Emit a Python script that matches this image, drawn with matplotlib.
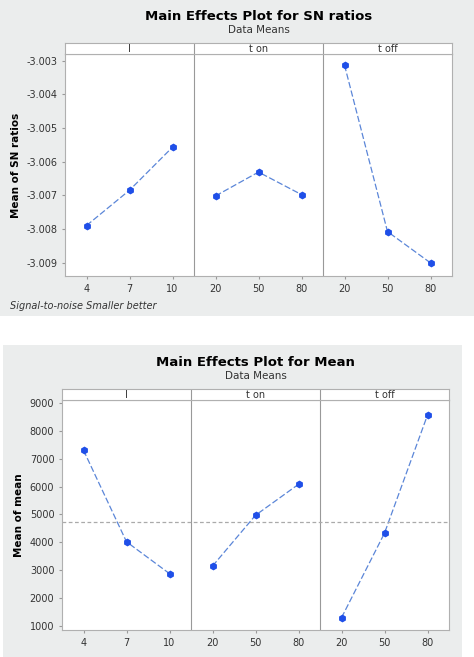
import matplotlib.pyplot as plt
from matplotlib.patches import Rectangle

factors = ["I", "t on", "t off"]
levels = [["4", "7", "10"], ["20", "50", "80"], ["20", "50", "80"]]
sn_values = [[-3.0079, -3.00685, -3.00557],
             [-3.00702, -3.00631, -3.00698],
             [-3.00313, -3.00808, -3.00901]]
mean_values = [[7300, 4020, 2880],
               [3150, 4970, 6080],
               [1300, 4330, 8560]]
mean_ref = 4730
sn_ticks = [-3.003, -3.004, -3.005, -3.006, -3.007, -3.008, -3.009]
mean_ticks = [1000, 2000, 3000, 4000, 5000, 6000, 7000, 8000, 9000]

W, H = 474, 657
fig = plt.figure(figsize=(W / 100, H / 100), dpi=100)
fig.patch.set_facecolor("white")


def px(x0, y0, x1, y1):
    return [x0 / W, 1 - y1 / H, (x1 - x0) / W, (y1 - y0) / H]


def panel(box, plot, strip_h, values, ticks, ylim, title, ylabel, ref=None, fmt="{:.3f}"):
    fig.patches.append(Rectangle((box[0] / W, 1 - box[3] / H), (box[2] - box[0]) / W,
                                 (box[3] - box[1]) / H, transform=fig.transFigure,
                                 facecolor="#ebeded", edgecolor="none", zorder=-5))
    x0, y0, x1, y1 = plot
    ax = fig.add_axes(px(x0, y0 + strip_h, x1, y1))
    st = fig.add_axes(px(x0, y0, x1, y0 + strip_h))
    for a in (ax, st):
        a.set_facecolor("white")
        for s in a.spines.values():
            s.set_color("#b0b0b0")
            s.set_linewidth(0.8)
    st.set_xlim(0, 9)
    st.set_xticks([]); st.set_yticks([])
    for i, f in enumerate(factors):
        st.text(3 * i + 1.5, 0.45, f, ha="center", va="center", fontsize=7, color="#333333")
        if i:
            st.axvline(3 * i, color="#999999", lw=0.8)
    xt, xl = [], []
    for i, vals in enumerate(values):
        xs = [3 * i + 0.5, 3 * i + 1.5, 3 * i + 2.5]
        ax.plot(xs, vals, ls=(0, (5, 2)), color="#5b86d8", lw=0.9)
        ax.plot(xs, vals, "h", color="#1f4fe8", ms=4.5, ls="none")
        xt += xs
        xl += levels[i]
        if i:
            ax.axvline(3 * i, color="#999999", lw=0.8)
    if ref is not None:
        ax.axhline(ref, color="#aaaaaa", ls=(0, (3, 2)), lw=0.9)
    ax.set_xlim(0, 9)
    ax.set_ylim(*ylim)
    ax.set_xticks(xt, xl)
    ax.set_yticks(ticks, [fmt.format(t) for t in ticks])
    ax.tick_params(labelsize=7, colors="#333333", length=2, color="#999999")
    ax.set_ylabel(ylabel, fontsize=7.5, fontweight="bold")
    cx = (x0 + x1) / 2 / W
    fig.text(cx, 1 - (y0 - 27) / H, title, ha="center", va="center", fontsize=9.5, fontweight="bold")
    fig.text(cx, 1 - (y0 - 13) / H, "Data Means", ha="center", va="center", fontsize=7.5, color="#333333")
    return ax


panel((0, 0, 474, 316), (65, 43, 452, 276), 11, sn_values, sn_ticks, (-3.0094, -3.0028),
      "Main Effects Plot for SN ratios", "Mean of SN ratios")
fig.text(10 / W, 1 - 306 / H, "Signal-to-noise Smaller better", fontsize=7, style="italic",
         va="center", color="#333333")
panel((3, 345, 462, 657), (62, 389, 449, 630), 11, mean_values, mean_ticks, (860, 9100),
      "Main Effects Plot for Mean", "Mean of mean", ref=mean_ref, fmt="{:.0f}")

fig.savefig("out.png", dpi=100)
